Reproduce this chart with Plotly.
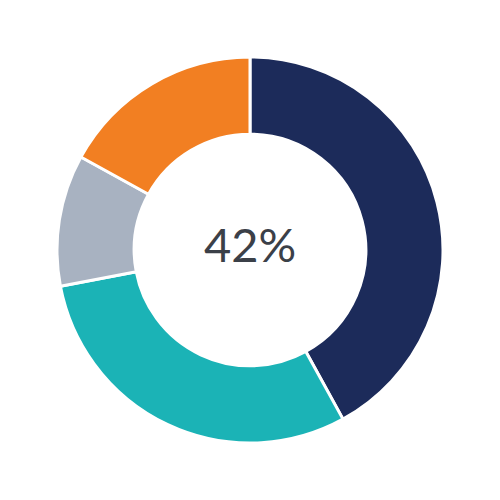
import plotly.graph_objects as go

labels = ["A", "B", "C", "D"]
values = [42, 30, 11, 17]
colors = ["#1c2b5a", "#1bb3b6", "#a8b2c1", "#f27f22"]
center_text = "42%"

fig = go.Figure(go.Pie(
    labels=labels,
    values=values,
    hole=0.6,
    sort=False,
    direction="clockwise",
    rotation=0,
    marker=dict(colors=colors, line=dict(color="white", width=3)),
    textinfo="none",
    hoverinfo="label+percent",
))

# page puts the figure 8px in from the corner, so shift it back
fig.update_layout(
    width=500, height=500,
    margin=dict(l=49, r=65, t=49, b=65),
    showlegend=False,
    paper_bgcolor="white",
    annotations=[dict(text=center_text, x=0.5, y=0.5, xref="paper", yref="paper",
                      yshift=6, showarrow=False,
                      font=dict(family="Lato", size=47, color="#3b4048"))],
)

fig.write_html("out.html")
